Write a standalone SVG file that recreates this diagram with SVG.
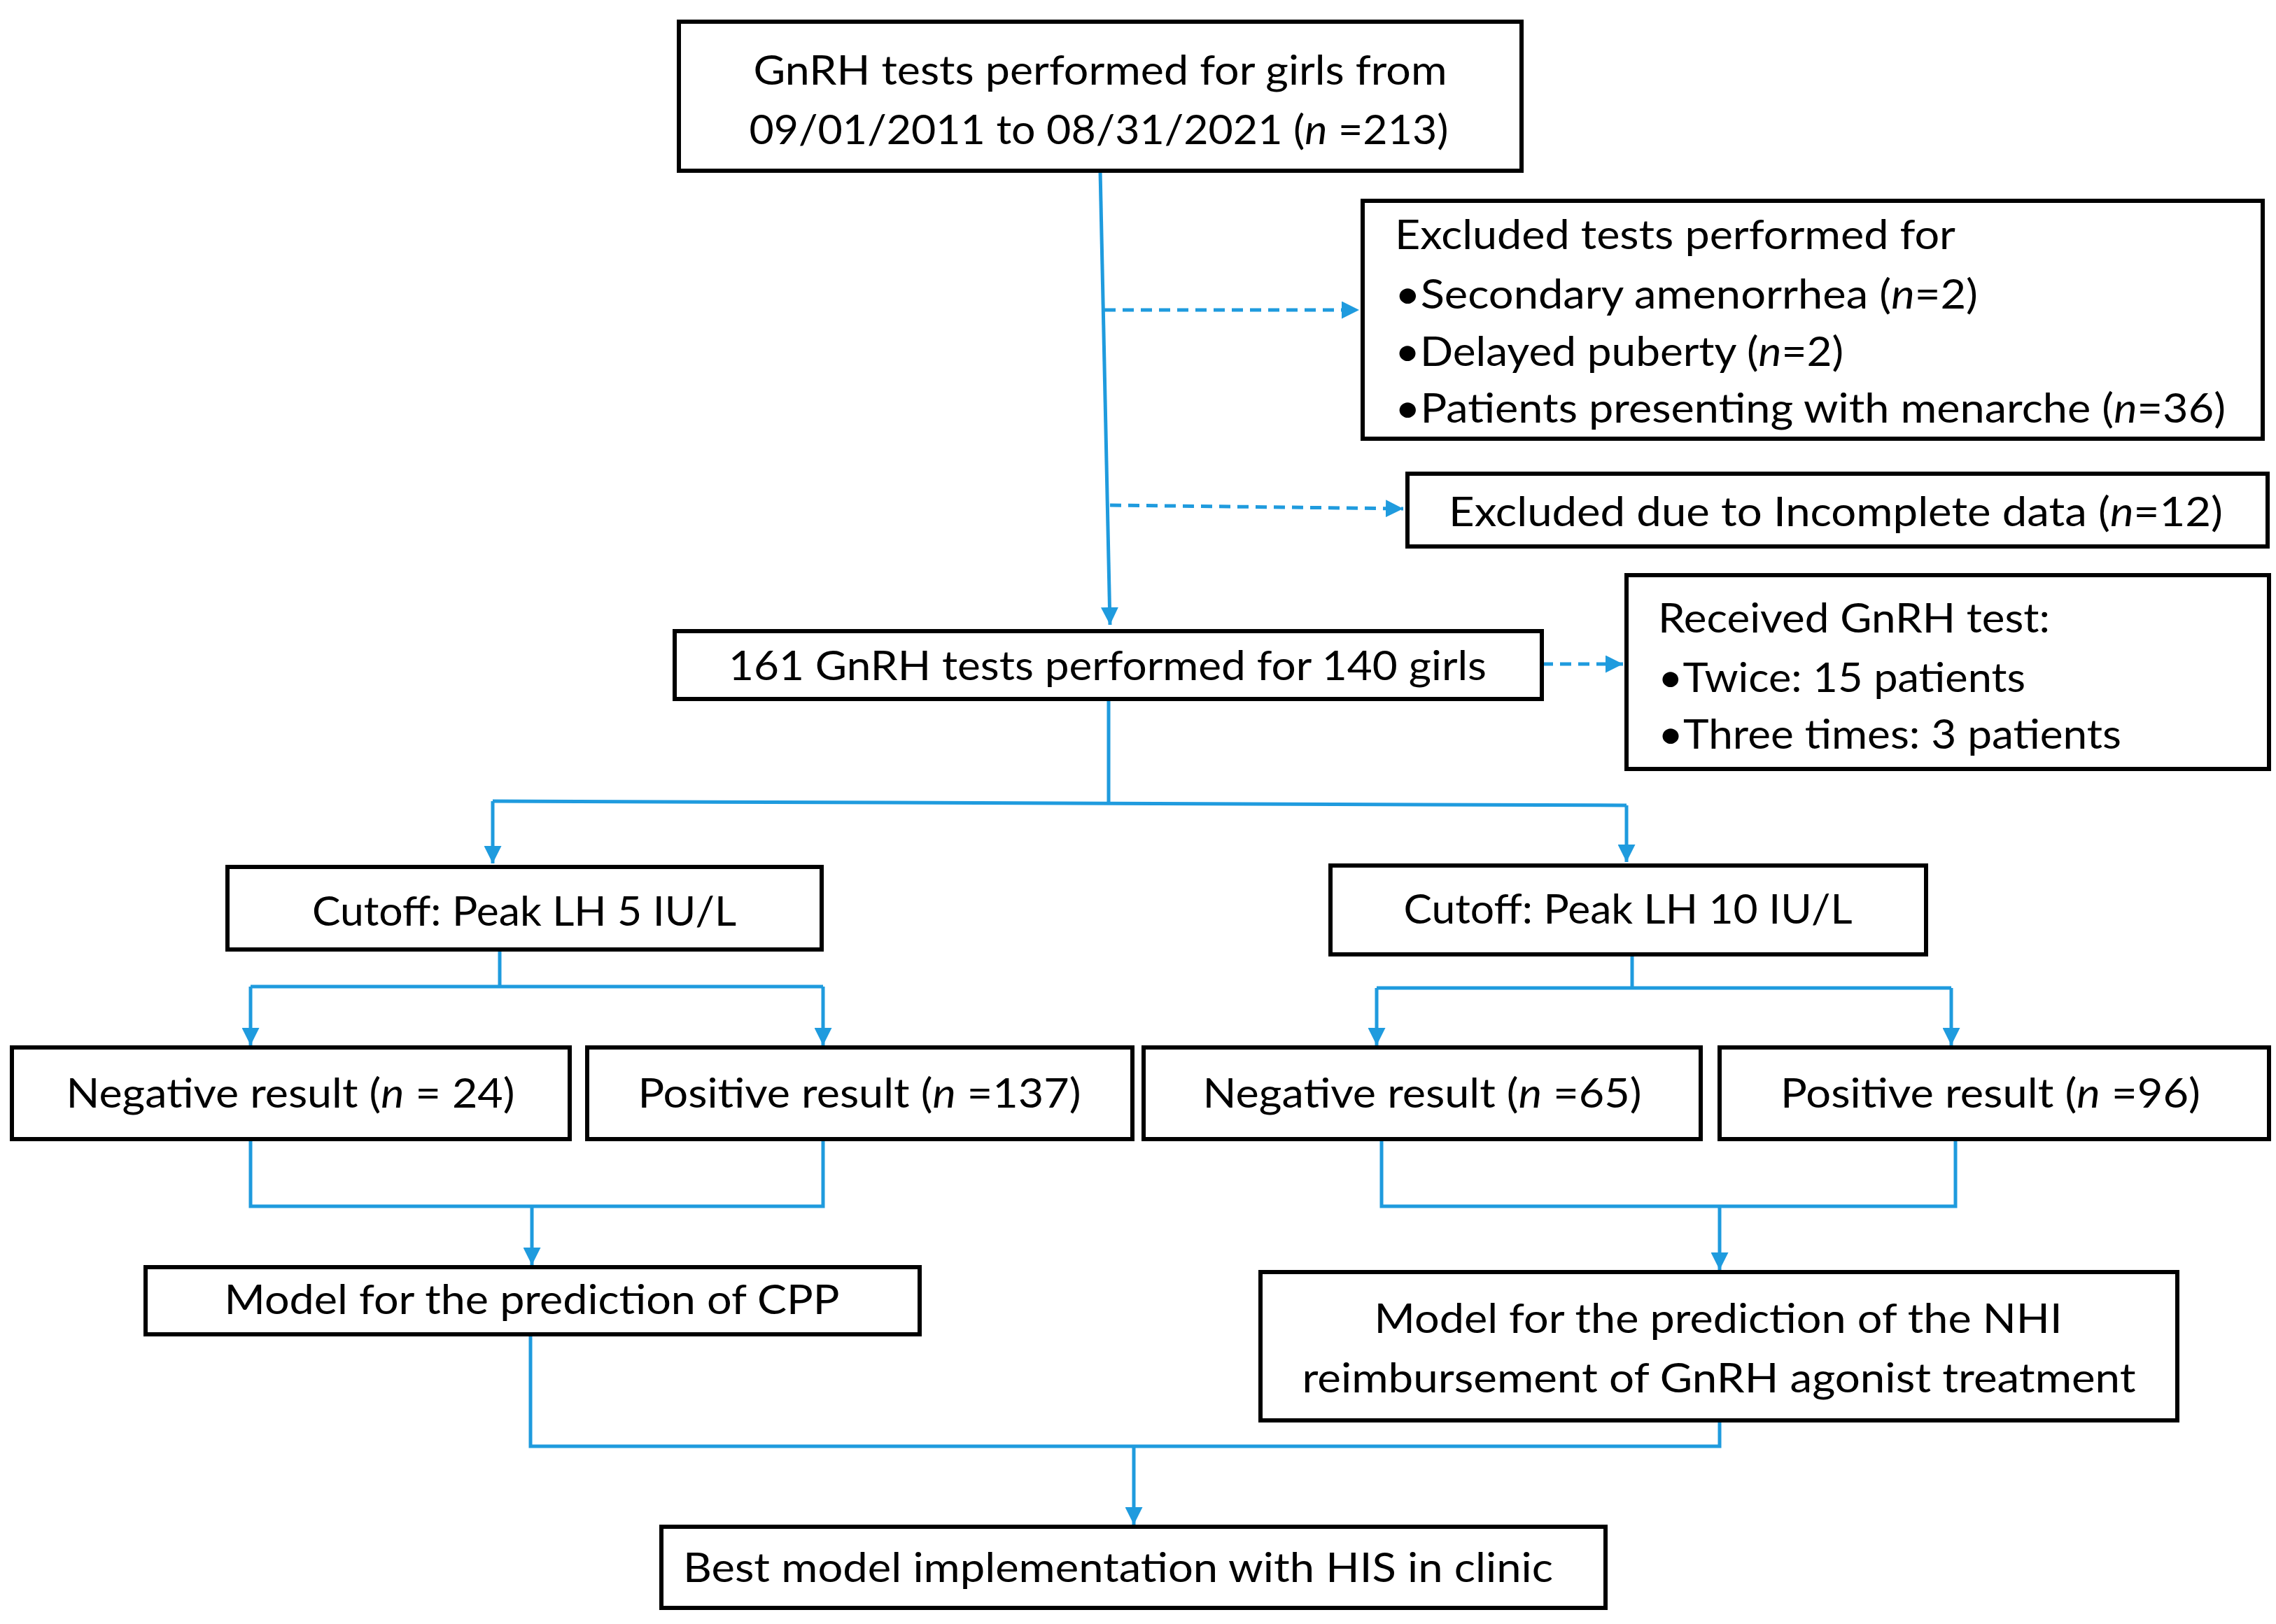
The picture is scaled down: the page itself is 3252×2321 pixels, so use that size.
<svg xmlns="http://www.w3.org/2000/svg" width="3252" height="2321" viewBox="0 0 3252 2321">
<style>
rect{fill:#fff;stroke:#000;stroke-width:6}
text{font-family:Lato,"Open Sans","Liberation Sans",sans-serif;font-size:58px;fill:#000}
.c{text-anchor:middle}
.i{font-style:italic}
.ln{fill:none;stroke:#1F9BDE;stroke-width:5}
.d{stroke-dasharray:16 10}
</style>
<defs><marker id="a" viewBox="0 0 10 10" refX="10" refY="5" markerWidth="5" markerHeight="5" orient="auto" markerUnits="strokeWidth"><path d="M0,0L10,5L0,10z" fill="#1F9BDE"/></marker></defs>
<rect width="3252" height="2321" style="fill:#fff;stroke:none"/>
<g id="connectors">
<path class="ln" d="M1572,244L1586,893" marker-end="url(#a)"/>
<path class="ln d" d="M1578,443H1942" marker-end="url(#a)"/>
<path class="ln d" d="M1586,722L2005,727" marker-end="url(#a)"/>
<path class="ln d" d="M2203,949H2319" marker-end="url(#a)"/>
<path class="ln" d="M1584,999V1147"/>
<path class="ln" d="M704,1145L2324,1151"/>
<path class="ln" d="M704,1145V1234" marker-end="url(#a)"/>
<path class="ln" d="M2324,1151V1232" marker-end="url(#a)"/>
<path class="ln" d="M714,1357V1410"/>
<path class="ln" d="M358,1410H1176"/>
<path class="ln" d="M358,1410V1494" marker-end="url(#a)"/>
<path class="ln" d="M1176,1410V1494" marker-end="url(#a)"/>
<path class="ln" d="M2332,1364V1412"/>
<path class="ln" d="M1967,1412H2788"/>
<path class="ln" d="M1967,1412V1494" marker-end="url(#a)"/>
<path class="ln" d="M2788,1412V1494" marker-end="url(#a)"/>
<path class="ln" d="M358,1628V1724H1176V1628"/>
<path class="ln" d="M760,1724V1808" marker-end="url(#a)"/>
<path class="ln" d="M1974,1628V1724H2794V1628"/>
<path class="ln" d="M2457,1724V1815" marker-end="url(#a)"/>
<path class="ln" d="M758,1907V2067H2457V2030"/>
<path class="ln" d="M1620,2067V2179" marker-end="url(#a)"/>
</g>
<g id="n1"><rect x="970" y="31" width="1204" height="213"/>
<text x="1572" y="121" class="c" textLength="991" lengthAdjust="spacingAndGlyphs">GnRH tests performed for girls from</text>
<text x="1570" y="206" class="c" textLength="999" lengthAdjust="spacingAndGlyphs">09/01/2011 to 08/31/2021 (<tspan class="i">n</tspan> =213)</text></g>
<g id="n2"><rect x="1947" y="287" width="1286" height="340"/>
<text x="1993" y="356" textLength="801" lengthAdjust="spacingAndGlyphs">Excluded tests performed for</text>
<text x="1993" y="441" textLength="833" lengthAdjust="spacingAndGlyphs">•Secondary amenorrhea (<tspan class="i">n</tspan>=2)</text>
<text x="1993" y="523" textLength="641" lengthAdjust="spacingAndGlyphs">•Delayed puberty (<tspan class="i">n</tspan>=2)</text>
<text x="1993" y="604" textLength="1187" lengthAdjust="spacingAndGlyphs">•Patients presenting with menarche (<tspan class="i">n</tspan>=36)</text></g>
<g id="n3"><rect x="2011" y="677" width="1229" height="104"/>
<text x="2070" y="752" textLength="1106" lengthAdjust="spacingAndGlyphs">Excluded due to Incomplete data (<tspan class="i">n</tspan>=12)</text></g>
<g id="n4"><rect x="964" y="902" width="1239" height="97"/>
<text x="1041" y="972" textLength="1083" lengthAdjust="spacingAndGlyphs">161 GnRH tests performed for 140 girls</text></g>
<g id="n5"><rect x="2324" y="822" width="918" height="277"/>
<text x="2369" y="904" textLength="560" lengthAdjust="spacingAndGlyphs">Received GnRH test:</text>
<text x="2369" y="989" textLength="525" lengthAdjust="spacingAndGlyphs">•Twice: 15 patients</text>
<text x="2369" y="1070" textLength="662" lengthAdjust="spacingAndGlyphs">•Three times: 3 patients</text></g>
<g id="n6"><rect x="325" y="1239" width="849" height="118"/>
<text x="749" y="1323" class="c" textLength="606" lengthAdjust="spacingAndGlyphs">Cutoff: Peak LH 5 IU/L</text></g>
<g id="n7"><rect x="1901" y="1237" width="851" height="127"/>
<text x="2326" y="1320" class="c" textLength="641" lengthAdjust="spacingAndGlyphs">Cutoff: Peak LH 10 IU/L</text></g>
<g id="n8"><rect x="17" y="1497" width="797" height="131"/>
<text x="415" y="1583" class="c" textLength="641" lengthAdjust="spacingAndGlyphs">Negative result (<tspan class="i">n</tspan> = 24)</text></g>
<g id="n9"><rect x="839" y="1497" width="779" height="131"/>
<text x="1228" y="1583" class="c" textLength="633" lengthAdjust="spacingAndGlyphs">Positive result (<tspan class="i">n</tspan> =137)</text></g>
<g id="n10"><rect x="1634" y="1497" width="796" height="131"/>
<text x="2032" y="1583" class="c" textLength="627" lengthAdjust="spacingAndGlyphs">Negative result (<tspan class="i">n</tspan> =65)</text></g>
<g id="n11"><rect x="2457" y="1497" width="785" height="131"/>
<text x="2844" y="1583" class="c" textLength="600" lengthAdjust="spacingAndGlyphs">Positive result (<tspan class="i">n</tspan> =96)</text></g>
<g id="n12"><rect x="208" y="1811" width="1106" height="96"/>
<text x="760" y="1878" class="c" textLength="879" lengthAdjust="spacingAndGlyphs">Model for the prediction of CPP</text></g>
<g id="n13"><rect x="1801" y="1818" width="1310" height="212"/>
<text x="2455" y="1905" class="c" textLength="983" lengthAdjust="spacingAndGlyphs">Model for the prediction of the NHI</text>
<text x="2456" y="1990" class="c" textLength="1191" lengthAdjust="spacingAndGlyphs">reimbursement of GnRH agonist treatment</text></g>
<g id="n14"><rect x="945" y="2182" width="1349" height="116"/>
<text x="976" y="2261" textLength="1243" lengthAdjust="spacingAndGlyphs">Best model implementation with HIS in clinic</text></g>
</svg>
